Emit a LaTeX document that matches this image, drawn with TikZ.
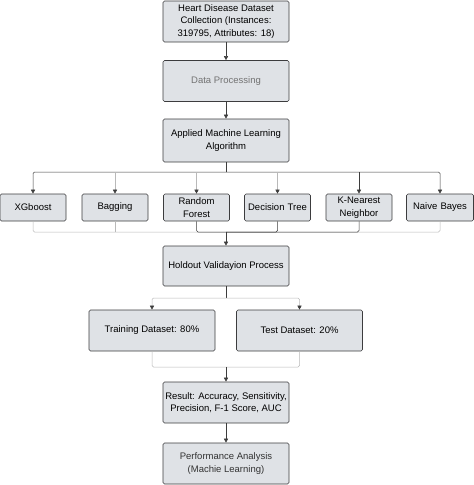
\documentclass[tikz,border=0pt]{standalone}
\usepackage{fontspec}
\setmainfont{Liberation Sans}
\usetikzlibrary{positioning, arrows.meta, calc}
\definecolor{boxfill}{RGB}{223,226,230}
\definecolor{boxline}{RGB}{60,60,62}
\definecolor{wire}{RGB}{60,60,60}
\definecolor{faint}{RGB}{185,185,185}

\begin{document}
\begin{tikzpicture}[x=1pt,y=-1pt,
    box/.style={draw=boxline, fill=boxfill, rounded corners=1.5pt, line width=0.6pt,
                minimum width=126pt, minimum height=41pt, align=center, inner sep=1pt,
                font=\fontsize{9.5}{12.5}\selectfont},
    algbox/.style={box, minimum width=66pt, minimum height=27pt, text width=62pt},
    tip/.style={-{Triangle[length=4pt,width=4pt,color=wire]}},
    flow/.style={draw=wire, line width=0.5pt, rounded corners=1.5pt, tip},
    weakflow/.style={draw=faint, line width=0.5pt, rounded corners=1.5pt, tip},
    link/.style={draw=wire, line width=0.5pt, rounded corners=1.5pt},
    weak/.style={draw=faint, line width=0.5pt, rounded corners=1.5pt}]
    \useasboundingbox (0,0) rectangle (474,485);

    % 上段のボックス
    \node[box] (data) at (226,21.5) {Heart Disease Dataset\\Collection (Instances:\\319795, Attributes: 18)};
    \node[box, text=black!55] (proc) at (226,81) {Data Processing};
    \node[box, minimum height=43pt] (alg) at (226,140.5) {Applied Machine Learning\\Algorithm};

    % アルゴリズムの並び
    \node[algbox] (xgb) at (33,207.5) {XGboost};
    \node[algbox] (bag) at (115,207.5) {Bagging};
    \node[algbox] (rf) at (196.5,207.5) {Random\\Forest};
    \node[algbox] (dt) at (277.5,207.5) {Decision Tree};
    \node[algbox] (knn) at (359,207.5) {K-Nearest\\Neighbor};
    \node[algbox, minimum width=67pt] (nb) at (440,207.5) {Naive Bayes};

    % 下段のボックス
    \node[box, minimum height=40pt] (hold) at (226,266) {Holdout Validayion Process};
    \node[box] (train) at (152,330.5) {Training Dataset: 80\%};
    \node[box] (test) at (299.5,330.5) {Test Dataset: 20\%};
    \node[box] (res) at (226,402.5) {Result: Accuracy, Sensitivity,\\Precision, F-1 Score, AUC};
    \node[box, text=black!80] (perf) at (226,463.5) {Performance Analysis\\(Machie Learning)};

    % 分岐と合流の点
    \coordinate (split) at (226,172);
    \coordinate (join) at (226,232);
    \coordinate (split2) at (226,298);
    \coordinate (join2) at (226,367);

    % 矢印の描画
    \draw[flow] (data) -- (proc);
    \draw[flow] (proc) -- (alg);
    \draw[link] (alg) -- (split);
    \draw[flow] (split) -| (xgb.north);
    \draw[flow] (split) -| (nb.north);
    \draw[weakflow] (bag.north |- split) -- (bag.north);
    \draw[weakflow] (rf.north |- split) -- (rf.north);
    \draw[weakflow] (dt.north |- split) -- (dt.north);
    \draw[flow] (knn.north |- split) -- (knn.north);

    \draw[weak] (xgb.south) |- (join);
    \draw[weak] (nb.south) |- (join);
    \draw[weak] (bag.south) -- (bag.south |- join);
    \draw[link] (rf.south) |- (join);
    \draw[link] (dt.south) |- (join);
    \draw[link] (knn.south) |- (join);
    \draw[flow] (join) -- (hold);

    \draw[link] (hold) -- (split2);
    \draw[weakflow] (split2) -| (train.north);
    \draw[weakflow] (split2) -| (test.north);

    \draw[weak] (train.south) |- (join2);
    \draw[weak] (test.south) |- (join2);
    \draw[flow] (join2) -- (res);
    \draw[flow] (res) -- (perf);
\end{tikzpicture}
\end{document}
